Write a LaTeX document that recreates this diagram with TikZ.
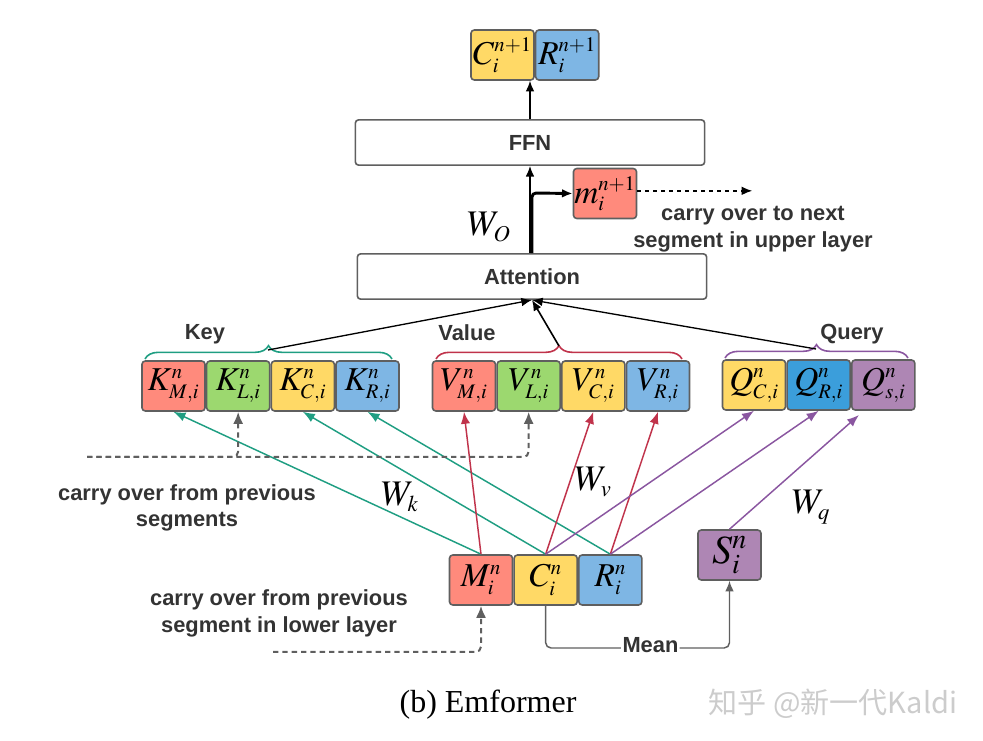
\documentclass[tikz,border=0pt]{standalone}
\usepackage{mathptmx}
\usepackage[no-math]{fontspec}
\setmainfont{Liberation Serif}
\setsansfont{Liberation Sans}
\newfontfamily\cjkfont{Noto Sans CJK SC}
\usepackage{xcolor}
\usetikzlibrary{positioning,arrows.meta,decorations.pathreplacing}
\DeclareMathSizes{25}{25}{15.5}{12}
\DeclareMathSizes{27}{27}{17}{13}
\DeclareMathSizes{30}{30}{21}{15}

\definecolor{boxred}{HTML}{FF8A7C}
\definecolor{boxgreen}{HTML}{9CD86F}
\definecolor{boxyellow}{HTML}{FFD966}
\definecolor{boxblue}{HTML}{7EB6E4}
\definecolor{boxdeep}{HTML}{3B9EDB}
\definecolor{boxpurple}{HTML}{AE86B4}
\definecolor{edgegray}{HTML}{5F5F5F}
\definecolor{txtgray}{HTML}{333333}
\definecolor{teal1}{HTML}{1F9E82}
\definecolor{red1}{HTML}{C0334B}
\definecolor{purple1}{HTML}{8A56A0}

\begin{document}
\begin{tikzpicture}[
    % Define node styles
    x = 0.75pt, y = -0.75pt,
    node distance = 0pt,
    cell/.style={rectangle, rounded corners=2.5pt, draw=edgegray, line width=1.2pt, inner sep=0pt,
        minimum width=47.3pt, minimum height=37.5pt, text=black, font=\fontsize{25}{28}\selectfont},
    redc/.style={cell, fill=boxred},
    greenc/.style={cell, fill=boxgreen},
    yellowc/.style={cell, fill=boxyellow},
    bluec/.style={cell, fill=boxblue},
    deepc/.style={cell, fill=boxdeep},
    purplec/.style={cell, fill=boxpurple},
    layerbox/.style={rectangle, rounded corners=2.5pt, draw=edgegray, line width=1.2pt, fill=white,
        minimum width=262pt, minimum height=34pt, text=txtgray, font=\sffamily\bfseries\fontsize{16.4}{20}\selectfont},
    note/.style={align=center, text=txtgray, font=\sffamily\bfseries\fontsize{16.4}{20}\selectfont},
    weight/.style={text=black, font=\fontsize{27}{30}\selectfont},
    keyarrow/.style={-{Latex[length=9pt,width=7pt]}, draw=teal1, line width=1.1pt},
    valarrow/.style={-{Latex[length=9pt,width=7pt]}, draw=red1, line width=1.1pt},
    qryarrow/.style={-{Latex[length=9pt,width=7pt]}, draw=purple1, line width=1.1pt},
    flow/.style={-{Latex[length=8pt,width=6.5pt]}, draw=black, line width=1pt},
    carry/.style={-{Latex[length=9pt,width=7.5pt]}, draw=edgegray, line width=1.5pt, dash pattern=on 4pt off 3pt, rounded corners=4pt},
    bracket/.style={decorate, decoration={brace, amplitude=10pt}, line width=1.2pt},
]
\path[use as bounding box] (0,0) rectangle (983,741);

% Top nodes
\node[yellowc] (Cnext) at (502.5,55) {$C_i^{n+1}$};
\node[bluec, right= of Cnext] (Rnext) {$R_i^{n+1}$};
\node[layerbox] (ffn) at (530,142.5) {FFN};
\node[layerbox] (attn) at (532,276.5) {Attention};
\node[redc] (mnext) at (605,193.5) {$m_i^{n+1}$};

% Key, Value, Query nodes
\node[redc] (Km) at (173.5,386) {$K_{M,i}^n$};
\node[greenc, right= of Km] (Kl) {$K_{L,i}^n$};
\node[yellowc, right= of Kl] (Kc) {$K_{C,i}^n$};
\node[bluec, right= of Kc] (Kr) {$K_{R,i}^n$};

\node[redc] (Vm) at (464,386) {$V_{M,i}^n$};
\node[greenc, right= of Vm] (Vl) {$V_{L,i}^n$};
\node[yellowc, right= of Vl] (Vc) {$V_{C,i}^n$};
\node[bluec, right= of Vc] (Vr) {$V_{R,i}^n$};

\node[yellowc] (Qc) at (754,385) {$Q_{C,i}^n$};
\node[deepc, right= of Qc] (Qr) {$Q_{R,i}^n$};
\node[purplec, right= of Qr] (Qs) {$Q_{s,i}^n$};

% Input nodes
\node[redc] (Mi) at (481,580) {$M_i^n$};
\node[yellowc, right= of Mi] (Ci) {$C_i^n$};
\node[bluec, right= of Ci] (Ri) {$R_i^n$};
\node[purplec, font=\fontsize{30}{32}\selectfont] (Si) at (729.5,555) {$S_i^n$};

% Labels
\node[note] (keylab) at (205,334) {Key};
\node[note] (vallab) at (467,333) {Value};
\node[note] (qrylab) at (852,334) {Query};
\node[note] (nextlab) at (753,229) {carry over to next\\segment in upper layer};
\node[note] (prevlab) at (187,508) {carry over from previous\\segments};
\node[note] (lowlab) at (279,613.5) {carry over from previous\\segment in lower layer};
\node[weight] (wo) at (489,227) {$W_O$};
\node[weight] (wk) at (400,497) {$W_k$};
\node[weight] (wv) at (593,482) {$W_v$};
\node[weight] (wq) at (811,507) {$W_q$};
\node[font=\fontsize{24}{28}\selectfont] (caption) at (488,705) {(b) Emformer};
\node[text=black!20, font=\cjkfont\fontsize{21.8}{24}\selectfont] (mark) at (833,704) {知乎 @新一代Kaldi};

% Braces
\draw[bracket, draw=teal1] (145,359) -- (392,359);
\draw[bracket, draw=red1] (436,359) -- (682,359);
\draw[bracket, draw=purple1] (725,358) -- (908,358);
\coordinate (keytip) at (268,350);
\coordinate (valtip) at (559,346);
\coordinate (qrytip) at (816,349);
\coordinate (attnin) at (532,300);

% Arrows for main flow
\draw[flow] (ffn.north) -- (ffn.north |- Cnext.south);
\draw[flow] (attn.north -| ffn.south) -- (ffn.south);
\draw[-{Latex[length=8pt,width=6.5pt]}, line width=2.2pt, rounded corners=3pt] (attn.north) -- (532,193) -- (mnext.west);
\draw[flow, dashed, line width=1.2pt] ([yshift=2pt]mnext.east) -- ++(115,0) coordinate (nextend);
\draw[flow] (keytip) -- (attnin);
\draw[flow, line width=1.2pt] (valtip) -- (attnin);
\draw[flow] (qrytip) -- (attnin);

% Weights
\draw[keyarrow] (Mi.north) -- (Km.south);
\draw[keyarrow] (Ci.north) -- (Kc.south);
\draw[keyarrow] (Ri.north) -- (Kr.south);
\draw[valarrow] (Mi.north) -- (Vm.south);
\draw[valarrow] (Ci.north) -- (Vc.south);
\draw[valarrow] (Ri.north) -- (Vr.south);
\draw[qryarrow] (Ci.north) -- (Qc.south);
\draw[qryarrow] (Ri.north) -- (Qr.south);
\coordinate (qsend) at (859,415);
\draw[qryarrow] (Si.north) -- (qsend);

% Carry over
\coordinate (prevstart) at (87,457);
\coordinate (lowstart) at (273,652);
\draw[carry] (prevstart) -- (Kl.south |- prevstart) -- (Kl.south);
\draw[carry] (prevstart) -- (Vl.south |- prevstart) -- (Vl.south);
\draw[carry] (lowstart) -- (Mi.south |- lowstart) -- (Mi.south);

% Mean
\draw[-{Latex[length=8pt,width=6.5pt]}, draw=edgegray, line width=1.1pt, rounded corners=4pt]
    (Ci.south) -- (Ci.south |- 0,648) -- node[note, fill=white, inner sep=1pt, pos=0.57, yshift=2pt] (meanlab) {Mean} (Si.south |- 0,648) -- (Si.south);

\end{tikzpicture}
\end{document}
